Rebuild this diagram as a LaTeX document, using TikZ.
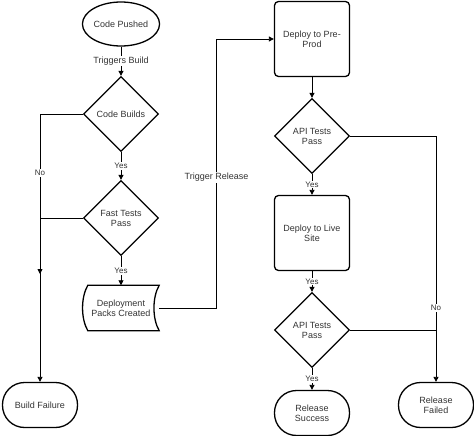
\documentclass[tikz,border=0pt]{standalone}
\usepackage{fontspec}
\setmainfont{Liberation Sans}
\usetikzlibrary{shapes.geometric,arrows.meta,calc}
\definecolor{txt}{HTML}{333333}

\begin{document}
\begin{tikzpicture}[x=1pt,y=-1pt,
    every node/.style={text=txt, font=\fontsize{9}{10}\selectfont, align=center},
    startstop/.style={draw, line width=1.3pt, ellipse, minimum width=76pt, minimum height=44pt, inner sep=0pt},
    terminal/.style={draw, line width=1.3pt, rectangle, rounded corners=22pt, minimum width=75pt, minimum height=45pt},
    decision/.style={draw, line width=1.3pt, diamond, minimum width=75pt, minimum height=75pt, inner sep=0pt},
    process/.style={draw, line width=1.3pt, rectangle, rounded corners=4pt, minimum width=75pt, minimum height=75pt},
    link/.style={line width=0.8pt, -{Triangle[length=5pt,width=5pt]}},
    lbl/.style={fill=white, inner sep=1pt},
    small/.style={lbl, font=\fontsize{8}{9}\selectfont}]

    % Fix the page size
    \useasboundingbox (0,0) rectangle (474,436);

    % Build side
    \node[startstop] (pushed) at (121,24) {Code Pushed};
    \node[decision] (builds) at (121,114) {Code Builds};
    \node[decision] (fast) at (121,218) {Fast Tests\\Pass};
    \node[minimum width=76pt, minimum height=45pt] (packs) at (121,308) {Deployment\\Packs Created};
    \draw[line width=1.3pt] ($(packs.north west)+(5,0)$) -- (packs.north east)
        .. controls +(-7,12) and +(-7,-12) .. (packs.south east)
        -- ($(packs.south west)+(5,0)$)
        .. controls +(-7,-12) and +(-7,12) .. cycle;
    \node[terminal] (failure) at (40,405) {Build Failure};

    % Release side
    \node[process] (preprod) at (312,39) {Deploy to Pre-\\Prod};
    \node[decision] (api1) at (312,136) {API Tests\\Pass};
    \node[process] (live) at (312,233) {Deploy to Live\\Site};
    \node[decision] (api2) at (312,330) {API Tests\\Pass};
    \node[terminal] (success) at (312,413) {Release\\Success};
    \node[terminal] (failed) at (436,405) {Release\\Failed};

    % Connectors
    \draw[link] (pushed) -- node[lbl] {Triggers Build} (builds);
    \draw[link] (builds) -- node[small] {Yes} (fast);
    \draw[link] (fast) -- node[small] {Yes} (packs);
    \draw[link] (builds.west) -| node[small, pos=.61] {No} (failure.north);
    \coordinate (nojoin) at (40,274);
    \draw[link] (fast.west) -| (nojoin);
    \draw[link] (packs.east) -| node[lbl, pos=1, yshift=-4pt] {Trigger Release} ($(packs.east)!.5!(preprod.west)$) |- (preprod.west);

    \draw[link] (preprod) -- (api1);
    \draw[link] (api1) -- node[small] {Yes} (live);
    \draw[link] (live) -- node[small] {Yes} (api2);
    \draw[link] (api2) -- node[small] {Yes} (success);
    \draw[link] (api1.east) -| node[small, pos=.85] {No} (failed.north);
    \draw[line width=0.8pt] (api2.east) -- (api2.east -| failed.north);
\end{tikzpicture}
\end{document}
